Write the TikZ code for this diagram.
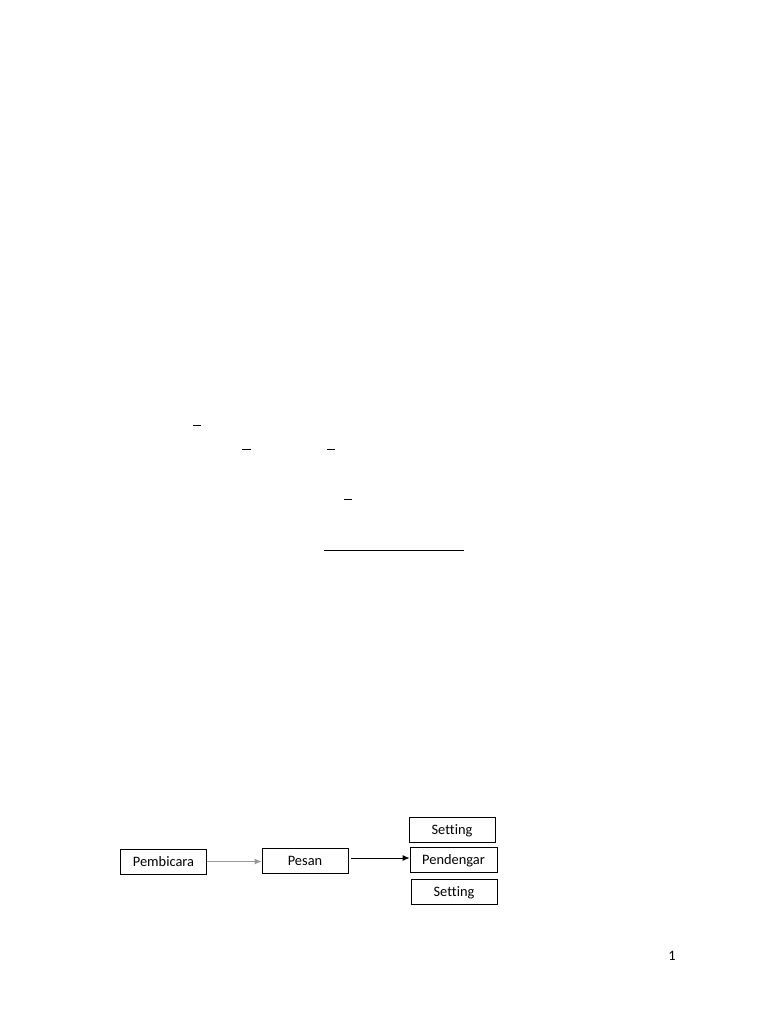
\documentclass[tikz,border=0pt]{standalone}
\usepackage{fontspec}
\setmainfont[Ligatures=NoCommon]{Carlito}
\usetikzlibrary{arrows.meta}
\begin{document}
\begin{tikzpicture}[x=1pt,y=-1pt,
  box/.style={draw=black,line width=0.9pt,minimum width=86pt,minimum height=25pt,inner sep=0pt,text height=13pt,text depth=3pt,font=\fontsize{14.4}{16}\selectfont},
  conn/.style={line width=0.9pt,-{Latex[length=7pt,width=6pt]}},
  dashmark/.style={line width=1pt}]
\useasboundingbox (0,0) rectangle (768,1024);
\fill[white] (0,0) rectangle (768,1024);
\node[box] (pembicara) at (163.5,861.5) {Pembicara};
\node[box] (pesan) at (305,860.5) {Pesan};
\node[box] (setting1) at (452,829.5) {Setting};
\node[box,minimum width=87pt] (pendengar) at (453.5,859.5) {Pendengar};
\node[box] (setting2) at (454,891.5) {Setting};
\draw[conn,draw=gray!80] (pembicara.east) -- (pesan.west |- pembicara.east);
\draw[conn] ([xshift=3pt]pesan.east |- 0,858) -- (pendengar.west |- 0,858);
\draw[dashmark] (193,425) -- (201,425);
\draw[dashmark] (242,449) -- (251,449);
\draw[dashmark] (327,449) -- (335,449);
\draw[dashmark] (344,499) -- (352,499);
\draw[line width=0.9pt] (324,550) -- (464,550);
\node[font=\fontsize{14.4}{16}\selectfont] (pagenum) at (672,956) {1};
\end{tikzpicture}
\end{document}
